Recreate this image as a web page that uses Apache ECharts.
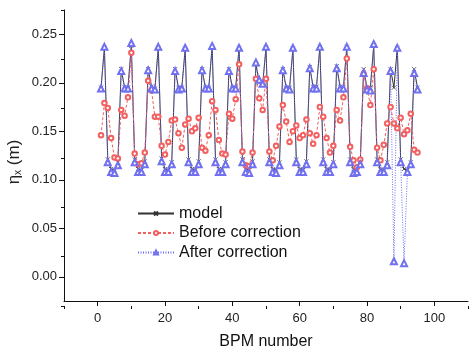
<!DOCTYPE html>
<html><head><meta charset="utf-8">
<script src="https://cdn.jsdelivr.net/npm/echarts@6/dist/echarts.min.js"></script>
<style>html,body{margin:0;padding:0;background:#fff}#c{width:474px;height:355px}</style>
</head><body><div id="c"></div>
<script>
const bpm = [1,2,3,4,5,6,7,8,9,10,11,12,13,14,15,16,17,18,19,20,21,22,23,24,25,26,27,28,29,30,31,32,33,34,35,36,37,38,39,40,41,42,43,44,45,46,47,48,49,50,51,52,53,54,55,56,57,58,59,60,61,62,63,64,65,66,67,68,69,70,71,72,73,74,75,76,77,78,79,80,81,82,83,84,85,86,87,88,89,90,91,92,93,94,95];
const model = [
 0.195,0.236,0.121,0.111,0.110,0.118,
 0.214,0.195,0.195,0.238,0.121,0.111,0.110,0.119,
 0.214,0.196,0.194,0.236,0.122,0.111,0.110,0.118,
 0.214,0.195,0.195,0.235,0.121,0.111,0.110,0.119,
 0.214,0.195,0.195,0.237,0.121,0.111,0.111,0.118,
 0.214,0.195,0.195,0.236,0.121,0.111,0.110,0.119,
 0.219,0.200,0.198,0.236,0.121,0.111,0.110,0.118,
 0.214,0.195,0.195,0.235,0.121,0.111,0.110,0.119,
 0.216,0.196,0.196,0.237,0.121,0.111,0.110,0.118,
 0.217,0.196,0.195,0.237,0.121,0.111,0.110,0.119,
 0.214,0.195,0.195,0.238,0.121,0.111,0.110,0.118,
 0.214,0.195,0.236,
 0.121,0.111,0.110,0.118,
 0.214,0.195];
const before = [
 0.146,0.179,0.174,0.143,0.123,0.122,
 0.172,0.166,0.185,0.231,0.127,0.116,0.117,0.128,
 0.202,0.192,0.165,0.165,0.135,0.126,0.139,0.161,
 0.162,0.148,0.133,0.157,0.163,0.150,0.153,0.164,
 0.133,0.130,0.146,0.181,0.172,0.141,0.127,0.126,
 0.168,0.163,0.183,0.219,0.129,0.115,0.114,0.128,
 0.204,0.184,0.172,0.204,0.129,0.120,0.135,0.155,
 0.177,0.160,0.139,0.150,0.156,0.143,0.146,0.162,
 0.148,0.137,0.146,0.175,0.165,0.143,0.128,0.135,
 0.172,0.161,0.185,0.225,0.134,0.120,0.113,0.121,
 0.209,0.194,0.177,0.214,0.133,0.120,0.136,0.158,
 0.175,0.158,0.153,
 0.164,0.147,0.151,0.168,
 0.131,0.128];
const after = [
 0.194,0.237,0.118,0.108,0.107,0.115,
 0.212,0.194,0.194,0.241,0.118,0.108,0.108,0.116,
 0.213,0.194,0.193,0.237,0.119,0.108,0.108,0.116,
 0.212,0.193,0.194,0.236,0.118,0.108,0.108,0.116,
 0.213,0.194,0.194,0.238,0.118,0.108,0.108,0.116,
 0.212,0.194,0.194,0.236,0.118,0.108,0.107,0.116,
 0.221,0.203,0.199,0.237,0.118,0.108,0.107,0.115,
 0.213,0.194,0.193,0.236,0.118,0.108,0.108,0.116,
 0.215,0.194,0.194,0.237,0.118,0.108,0.108,0.116,
 0.215,0.194,0.194,0.237,0.118,0.107,0.108,0.116,
 0.210,0.193,0.192,0.240,0.118,0.108,0.108,0.115,
 0.212,0.016,0.236,
 0.118,0.014,0.108,0.116,
 0.210,0.193];
const xTicks = [0,20,40,60,80,100];
const xMinor = [-10,10,30,50,70,90,110];
const yTicks = [0,0.05,0.1,0.15,0.2,0.25];
const yMinor = [-0.025,0.025,0.075,0.125,0.175,0.225,0.275];
const names = ['model','Before correction','After correction'];

const FONT = "'Liberation Sans', Arial, sans-serif";
const axisCol = '#111';
const gridPos = {left:64, right:6, top:10, bottom:49};
const chart = echarts.init(document.getElementById('c'));
chart.setOption({
  animation:false,
  backgroundColor:'#fff',
  grid:[Object.assign({}, gridPos), Object.assign({}, gridPos)],
  xAxis:[
    {type:'value', gridIndex:0, min:-10, max:110, position:'bottom',
     axisLine:{onZero:false, lineStyle:{color:axisCol, width:1}},
     axisTick:{customValues:xTicks, length:5, lineStyle:{color:axisCol}},
     axisLabel:{customValues:xTicks, fontSize:13, color:'#222', fontFamily:FONT, margin:11},
     splitLine:{show:false},
     name:'BPM number', nameLocation:'middle', nameGap:33,
     nameTextStyle:{fontSize:16, color:'#111', fontFamily:FONT}},
    {type:'value', gridIndex:1, min:-10, max:110, position:'bottom',
     axisLine:{show:false, onZero:false},
     axisTick:{customValues:xMinor, length:3, lineStyle:{color:axisCol}},
     axisLabel:{show:false}, splitLine:{show:false}}
  ],
  yAxis:[
    {type:'value', gridIndex:0, min:-0.025, max:0.275, position:'left',
     axisLine:{show:true, onZero:false, lineStyle:{color:axisCol, width:1}},
     axisTick:{show:true, customValues:yTicks, length:5, lineStyle:{color:axisCol}},
     axisLabel:{customValues:yTicks, fontSize:13, color:'#222', fontFamily:FONT, margin:7,
       formatter:v=>Number(v).toFixed(2)},
     splitLine:{show:false}},
    {type:'value', gridIndex:1, min:-0.025, max:0.275, position:'left',
     axisLine:{show:false, onZero:false},
     axisTick:{show:true, customValues:yMinor, length:3, lineStyle:{color:axisCol}},
     axisLabel:{show:false}, splitLine:{show:false}}
  ],
  legend:{
    data:names, orient:'vertical', left:137, top:205, padding:0,
    itemWidth:36, itemHeight:5, itemGap:2.5,
    textStyle:{fontSize:16, color:'#111', fontFamily:FONT, lineHeight:17}
  },
  graphic:[{
    type:'text', x:14, y:162, rotation:Math.PI/2,
    style:{
      text:'{a|η}{s|x}{a| (m)}',
      align:'center', verticalAlign:'middle',
      rich:{
        a:{fontSize:17, fontFamily:FONT, fill:'#222', lineHeight:18},
        s:{fontSize:10, fontFamily:FONT, fill:'#222', lineHeight:18, verticalAlign:'bottom'}
      }
    }
  }],
  series:[
    {name:names[0], type:'line', xAxisIndex:0, yAxisIndex:0,
     data:bpm.map((b,i)=>[b, model[i]]),
     symbol:'path://M0,0L10,10M10,0L0,10', symbolSize:4,
     lineStyle:{color:'#333', width:1},
     itemStyle:{color:'#333', borderColor:'#333', borderWidth:0.8}},
    {name:names[1], type:'line', xAxisIndex:0, yAxisIndex:0,
     data:bpm.map((b,i)=>[b, before[i]]),
     symbol:'emptyCircle', symbolSize:4.5,
     lineStyle:{color:'#f26060', width:1, type:[3,2]},
     itemStyle:{color:'#f26060', borderWidth:0.8}},
    {name:names[2], type:'line', xAxisIndex:0, yAxisIndex:0,
     data:bpm.map((b,i)=>[b, after[i]]),
     symbol:'emptyTriangle', symbolSize:6,
     lineStyle:{color:'#6b6bf5', width:1, type:[1,1.5]},
     itemStyle:{color:'#7070f0', borderWidth:0.7}}
  ]
});
</script>
</body></html>
